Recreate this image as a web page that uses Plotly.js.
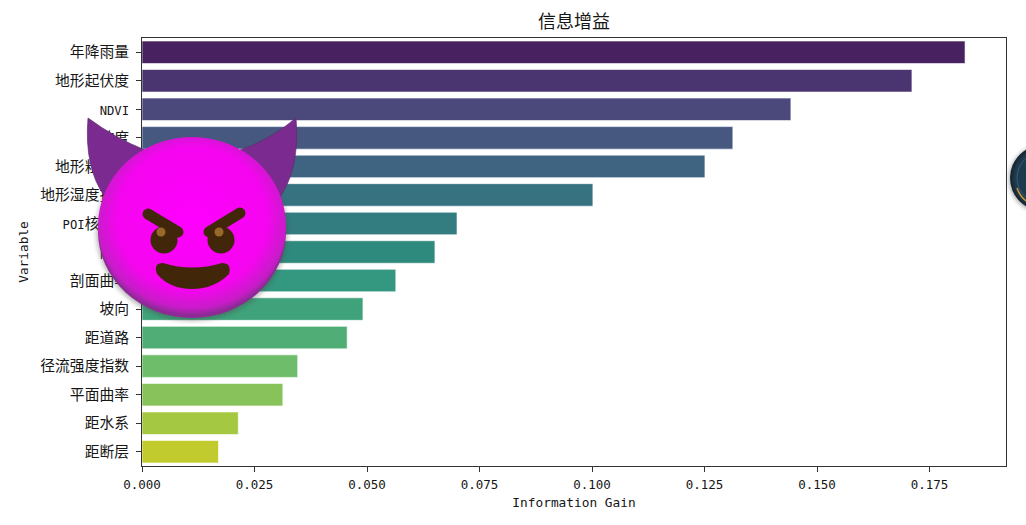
<!DOCTYPE html>
<html><head><meta charset="utf-8">
<script src="https://cdn.plot.ly/plotly-3.0.1.min.js"></script>
<style>html,body{margin:0;padding:0;background:#fff}#c{width:1026px;height:525px}</style>
</head><body><div id="c"></div>
<script>
const categories=["年降雨量","地形起伏度","NDVI","坡度","地形粗糙度","地形湿度指数","POI核密度","高程","剖面曲率","坡向","距道路","径流强度指数","平面曲率","距水系","距断层"];
const latin="font-size:12.2px;font-family:DejaVu Sans Mono";
const tickLabels=["年降雨量","地形起伏度","<span style='"+latin+"'>NDVI</span>","坡度","地形粗糙度","地形湿度指数","<span style='"+latin+"'>POI</span>核密度","高程","剖面曲率","坡向","距道路","径流强度指数","平面曲率","距水系","距断层"];
const gains=[0.1829,0.1711,0.1442,0.1313,0.1251,0.1002,0.0700,0.0651,0.0564,0.0491,0.0456,0.0346,0.0313,0.0214,0.0170];
const barColors=["#482260","#4b3570","#4b487c","#465880","#3f6482","#377280","#337d80","#2f8a7e","#34977f","#3fa27a","#4fad75","#6dbd6a","#88c25b","#a5c842","#c2cb2e"];
const xTicks=[0,0.025,0.05,0.075,0.1,0.125,0.15,0.175];
const xTickLabels=["0.000","0.025","0.050","0.075","0.100","0.125","0.150","0.175"];
const W=1026,H=525,M={l:142,r:20,t:38,b:59};
const mono='"DejaVu Sans Mono","Noto Sans CJK SC",monospace';
const cjk='"Noto Sans CJK SC","DejaVu Sans Mono",sans-serif';
const ink="#161616";
const overlay=`<svg xmlns="http://www.w3.org/2000/svg" width="${W}" height="${H}" viewBox="0 0 ${W} ${H}">
<defs>
<radialGradient id="f" cx="50%" cy="46%" r="54%"><stop offset="0" stop-color="#ff00ff"/><stop offset="0.74" stop-color="#f505ef"/><stop offset="0.93" stop-color="#c81cc8"/><stop offset="1" stop-color="#8e2a97"/></radialGradient>
<radialGradient id="b" cx="50%" cy="50%" r="50%"><stop offset="0" stop-color="#1d3c52"/><stop offset="0.85" stop-color="#1e3a4e"/><stop offset="1" stop-color="#14222c"/></radialGradient>
<filter id="s" x="-20%" y="-20%" width="140%" height="140%"><feGaussianBlur stdDeviation="2"/></filter>
</defs>
<ellipse cx="192" cy="231" rx="96" ry="90" fill="#444" opacity="0.35" filter="url(#s)"/>
<path d="M88 118 Q115 138 145 150 L105 197 Q84 168 88 118Z" fill="#7b2b8f" stroke="#5f2a70" stroke-width="0.7"/>
<path d="M296 118 Q270 140 240 150 L280 197 Q300 168 296 118Z" fill="#7b2b8f" stroke="#5f2a70" stroke-width="0.7"/>
<ellipse cx="192" cy="231" rx="94" ry="87" fill="#8e2a97"/>
<ellipse cx="192" cy="226" rx="94" ry="89" fill="url(#f)"/>
<path d="M148 214 L178 232" stroke="#42260a" stroke-width="11" stroke-linecap="round" fill="none"/>
<path d="M240 213 L209 232" stroke="#42260a" stroke-width="11" stroke-linecap="round" fill="none"/>
<circle cx="164" cy="240" r="13.5" fill="#42260a"/><circle cx="221" cy="240" r="13.5" fill="#42260a"/>
<circle cx="161" cy="232" r="4.5" fill="#96682a"/><circle cx="219" cy="232" r="4.5" fill="#96682a"/>
<path d="M163 263 Q192 272 222 263 Q232 263 229 274 Q214 289 192 289 Q170 289 157 274 Q153 263 163 263Z" fill="#42260a"/>
<circle cx="1043" cy="179" r="34" fill="#555" opacity="0.5" filter="url(#s)"/>
<circle cx="1043" cy="178" r="33" fill="url(#b)"/>
<circle cx="1043" cy="178" r="26" fill="none" stroke="#3b5a6e" stroke-width="1"/>
<path d="M1017 188 A28 28 0 0 0 1026 201" fill="none" stroke="#c8953a" stroke-width="1.5"/>
</svg>`;
const traces=[{type:"bar",orientation:"h",y:categories,x:gains,width:0.79,
  marker:{color:barColors,line:{color:"rgba(255,255,255,0.6)",width:1}},hoverinfo:"skip"}];
const layout={width:W,height:H,margin:{l:M.l,r:M.r,t:M.t,b:M.b,pad:0},
  paper_bgcolor:"#fff",plot_bgcolor:"#fff",showlegend:false,
  title:{text:"信息增益",font:{family:cjk,size:18,color:ink},x:574/W,xanchor:"center",y:1-22/H,yanchor:"middle"},
  xaxis:{range:[0,0.192],tickmode:"array",tickvals:xTicks,ticktext:xTickLabels,ticks:"outside",ticklen:5,tickwidth:1,tickcolor:"#333",
    showgrid:false,zeroline:false,showline:true,mirror:true,linecolor:"#333",linewidth:1,ticklabelstandoff:2,
    tickfont:{family:mono,size:12.5,color:ink},
    title:{text:"Information Gain",font:{family:mono,size:12.8,color:ink},standoff:7}},
  yaxis:{categoryorder:"array",categoryarray:categories,autorange:false,range:[14.5,-0.5],tickmode:"array",tickvals:categories,ticktext:tickLabels,ticks:"outside",ticklen:5,tickwidth:1,tickcolor:"#333",
    showgrid:false,zeroline:false,showline:true,mirror:true,linecolor:"#333",linewidth:1,ticklabelstandoff:4,
    tickfont:{family:cjk,size:14.8,color:ink},
    title:{text:"Variable",font:{family:mono,size:12.8,color:ink},standoff:8}},
  images:[{source:"data:image/svg+xml;charset=utf-8,"+encodeURIComponent(overlay),xref:"paper",yref:"paper",
    x:-M.l/(W-M.l-M.r),y:1+M.t/(H-M.t-M.b),sizex:W/(W-M.l-M.r),sizey:H/(H-M.t-M.b),xanchor:"left",yanchor:"top",sizing:"stretch",layer:"above"}]
};
Plotly.newPlot("c",traces,layout,{displayModeBar:false,staticPlot:true});
</script></body></html>
